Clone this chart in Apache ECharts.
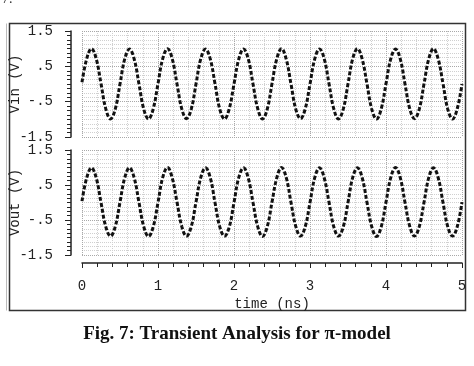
<!DOCTYPE html>
<html>
<head>
<meta charset="utf-8">
<script src="https://cdn.jsdelivr.net/npm/echarts@6/dist/echarts.min.js"></script>
<style>
html,body{margin:0;padding:0;background:#fff;}
#c{width:474px;height:366px;}
</style>
</head>
<body>
<div id="c"></div>
<script>
// time samples (ns)
const time = [0,0.0625,0.125,0.1875,0.25,0.3125,0.375,0.4375,
0.5,0.5625,0.625,0.6875,0.75,0.8125,0.875,0.9375,
1,1.0625,1.125,1.1875,1.25,1.3125,1.375,1.4375,
1.5,1.5625,1.625,1.6875,1.75,1.8125,1.875,1.9375,
2,2.0625,2.125,2.1875,2.25,2.3125,2.375,2.4375,
2.5,2.5625,2.625,2.6875,2.75,2.8125,2.875,2.9375,
3,3.0625,3.125,3.1875,3.25,3.3125,3.375,3.4375,
3.5,3.5625,3.625,3.6875,3.75,3.8125,3.875,3.9375,
4,4.0625,4.125,4.1875,4.25,4.3125,4.375,4.4375,
4.5,4.5625,4.625,4.6875,4.75,4.8125,4.875,4.9375,
5];
// Vin (V)
const vin = [0.05,0.72,1.00,0.71,0.01,-0.70,-0.99,-0.71,
0.00,0.71,0.99,0.70,0.00,-0.71,-0.99,-0.70,
0.01,0.72,1.00,0.71,0.00,-0.70,-0.98,-0.71,
0.00,0.71,0.99,0.71,0.01,-0.71,-0.99,-0.70,
0.00,0.70,0.99,0.71,0.00,-0.70,-0.99,-0.71,
0.01,0.71,1.00,0.70,0.00,-0.71,-0.98,-0.70,
0.00,0.71,0.99,0.71,0.01,-0.70,-0.99,-0.71,
0.00,0.72,1.00,0.70,0.00,-0.71,-0.99,-0.70,
0.01,0.71,0.99,0.71,0.00,-0.70,-0.98,-0.71,
0.00,0.71,1.00,0.70,0.01,-0.71,-0.99,-0.70,
0.00];
// Vout (V)
const vout = [0.04,0.71,0.99,0.70,0.00,-0.69,-0.96,-0.69,
0.01,0.71,0.99,0.70,0.00,-0.69,-0.97,-0.69,
0.00,0.72,1.00,0.70,0.01,-0.68,-0.96,-0.69,
0.01,0.71,0.99,0.71,0.00,-0.69,-0.96,-0.70,
0.00,0.71,0.99,0.70,0.00,-0.69,-0.97,-0.69,
0.01,0.70,1.00,0.71,0.00,-0.68,-0.96,-0.69,
0.00,0.71,0.99,0.70,0.01,-0.69,-0.96,-0.70,
0.00,0.72,0.99,0.70,0.00,-0.69,-0.97,-0.69,
0.01,0.71,1.00,0.71,0.00,-0.68,-0.96,-0.69,
0.00,0.71,0.99,0.70,0.00,-0.69,-0.96,-0.69,
0.01];
const xTicks = [0,1,2,3,4,5];
const yTickLabels = {'1.5':'1.5','0.5':'.5','-0.5':'-.5','-1.5':'-1.5'};
const caption = 'Fig. 7: Transient Analysis for \u03c0-model';

const mono = 'Liberation Mono';
function yAxisCfg(gridIndex, name){
  return {
    gridIndex, type:'value', min:-1.5, max:1.5, interval:1, offset:11,
    name, nameLocation:'middle', nameGap:49, nameMoveOverlap:false,
    nameTextStyle:{fontFamily:mono, fontSize:14, color:'#222'},
    axisLine:{show:true, onZero:false, lineStyle:{color:'#222', width:1.5}},
    axisTick:{show:true, length:6, lineStyle:{color:'#222'}},
    minorTick:{show:true, splitNumber:8, length:4, lineStyle:{color:'#222'}},
    axisLabel:{margin:18, fontFamily:mono, fontSize:14, color:'#222',
      formatter:v=>yTickLabels[String(v)] ?? ''},
    splitLine:{show:true, lineStyle:{color:'#a8a8a8', type:'dotted', width:1}},
    minorSplitLine:{show:true, lineStyle:{color:'#d0d0d0', type:'dotted', width:1}}
  };
}
function xAxisCfg(gridIndex, visible){
  return {
    gridIndex, type:'value', min:0, max:5, interval:1,
    offset: visible ? 8 : 0,
    name: visible ? 'time (ns)' : '', nameLocation:'middle', nameGap:34, nameMoveOverlap:false,
    nameTextStyle:{fontFamily:mono, fontSize:14, color:'#222'},
    axisLine:{show:visible, onZero:false, lineStyle:{color:'#222', width:1.5}},
    axisTick:{show:visible, length:5, lineStyle:{color:'#222'}},
    minorTick:{show:visible, splitNumber:5, length:4, lineStyle:{color:'#222'}},
    axisLabel:{show:visible, margin:16, fontFamily:mono, fontSize:14, color:'#222',
      formatter:v=>xTicks.includes(v)?String(v):''},
    splitLine:{show:true, lineStyle:{color:'#a8a8a8', type:'dotted', width:1}},
    minorSplitLine:{show:true, lineStyle:{color:'#d0d0d0', type:'dotted', width:1}}
  };
}
const lineStyle = {color:'#111', width:3, type:[4,2]};
const chart = echarts.init(document.getElementById('c'), null, {renderer:'canvas'});
chart.setOption({
  animation:false,
  backgroundColor:'#fff',
  grid:[
    {left:82, right:12, top:31, height:106, containLabel:false, outerBoundsMode:'none'},
    {left:82, right:12, top:150, height:105, containLabel:false, outerBoundsMode:'none'}
  ],
  xAxis:[xAxisCfg(0,false), xAxisCfg(1,true)],
  yAxis:[yAxisCfg(0,'Vin (V)'), yAxisCfg(1,'Vout (V)')],
  series:[
    {type:'line', xAxisIndex:0, yAxisIndex:0, showSymbol:false, smooth:0.4,
     data:time.map((t,i)=>[t,vin[i]]), lineStyle},
    {type:'line', xAxisIndex:1, yAxisIndex:1, showSymbol:false, smooth:0.4,
     data:time.map((t,i)=>[t,vout[i]]), lineStyle}
  ],
  graphic:[
    {type:'rect', shape:{x:9.5, y:23.5, width:456, height:287}, style:{fill:'none', stroke:'#333', lineWidth:1.5}, silent:true},
    {type:'line', shape:{x1:6.5, y1:23.5, x2:6.5, y2:310.5}, style:{stroke:'#bbb', lineWidth:1}, silent:true},
    {type:'text', left:'center', top:325, style:{text:caption, font:'bold 19px "Liberation Serif"', fill:'#111'}},
    {type:'text', left:2, top:-8, style:{text:'7.', font:'14px "Liberation Serif"', fill:'#333'}}
  ]
});
</script>
</body>
</html>
